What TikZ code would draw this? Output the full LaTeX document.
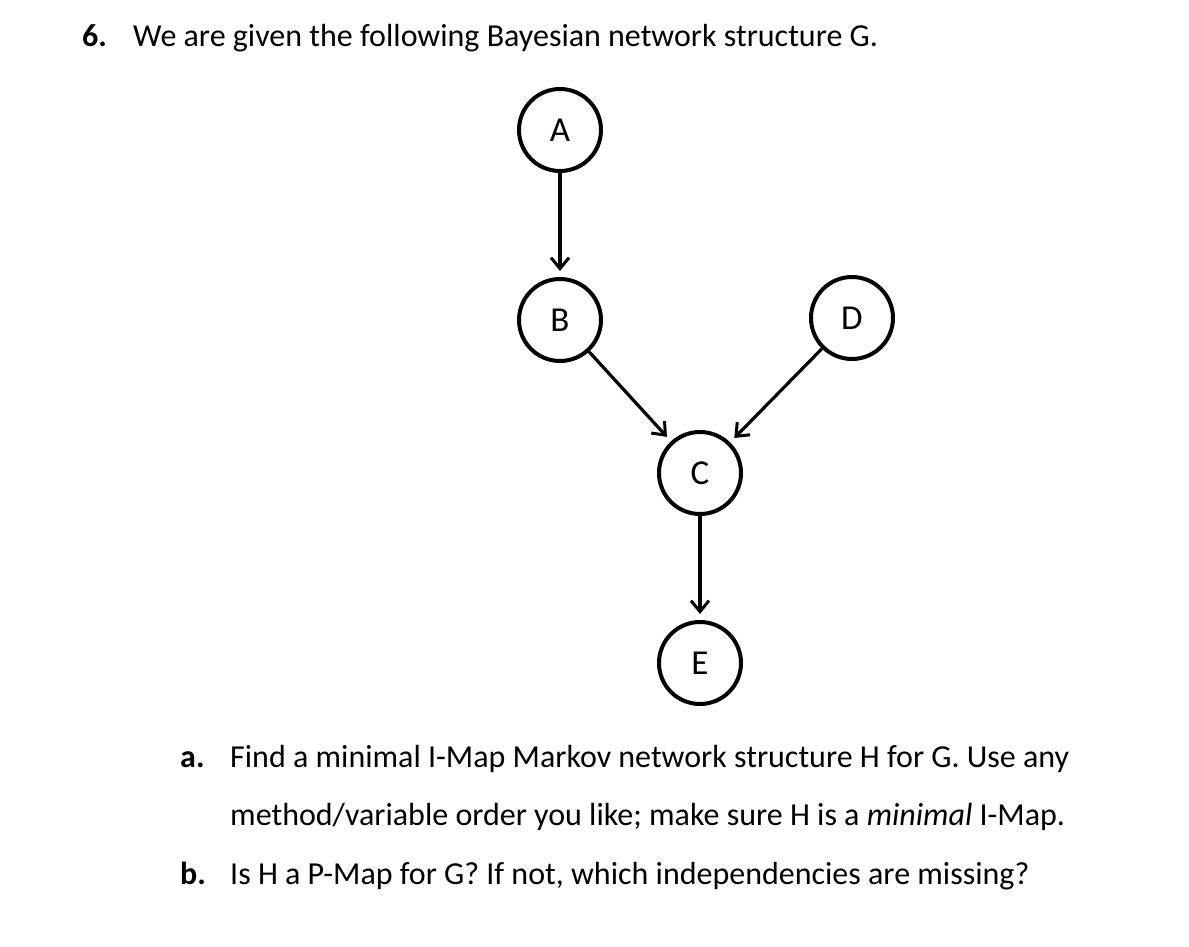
\documentclass[tikz,border=0pt]{standalone}
\usepackage{fontspec}
\setmainfont{Carlito}
\usetikzlibrary{arrows.meta}
\begin{document}
\begin{tikzpicture}[x=1pt,y=-1pt,
  vnode/.style={circle,draw,line width=4pt,minimum size=82pt,inner sep=0pt,font=\fontsize{35}{38}\selectfont},
  edge/.style={line width=3.2pt,-{Straight Barb[length=11pt,width=18pt,line width=3pt]},shorten >=6pt,shorten <=0pt},
  txt/.style={anchor=base west,inner sep=0pt,font=\fontsize{32}{36}\selectfont}]
\useasboundingbox (0,0) rectangle (1189,947);
\node[txt,font=\fontsize{32}{36}\selectfont\bfseries] (n6) at (82,47) {6.};
\node[txt] (t0) at (133,47) {We are given the following Bayesian network structure G.};
\node[vnode] (A) at (560,130) {A};
\node[vnode] (B) at (560,320) {B};
\node[vnode] (D) at (852,318) {D};
\node[vnode] (C) at (700,473) {C};
\node[vnode] (E) at (700,663) {E};
\draw[edge] (A) -- (B);
\draw[edge] (B) -- (C);
\draw[edge] (D) -- (C);
\draw[edge] (C) -- (E);
\node[txt,font=\fontsize{32}{36}\selectfont\bfseries] (la) at (180,767) {a.};
\node[txt] (ta) at (230,767) {Find a minimal I-Map Markov network structure H for G. Use any};
\node[txt] (ta2) at (230,825) {method/variable order you like; make sure H is a \textit{minimal} I-Map.};
\node[txt,font=\fontsize{32}{36}\selectfont\bfseries] (lb) at (180,884) {b.};
\node[txt] (tb) at (230,884) {Is H a P-Map for G? If not, which independencies are missing?};
\end{tikzpicture}
\end{document}
